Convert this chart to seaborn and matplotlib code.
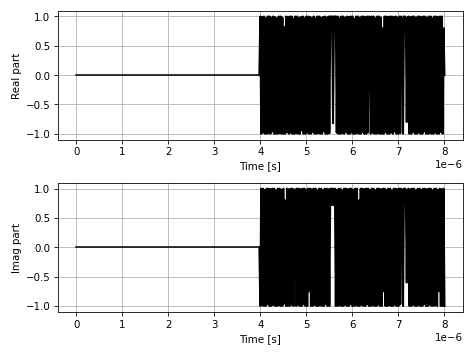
import numpy as np
import matplotlib
matplotlib.use("Agg")
import matplotlib.pyplot as plt
import seaborn as sns

# quiet lead-in (signal is zero until the burst starts)
T_QUIET = [0.0, 3.98e-6]
Y_QUIET = [0.0, 0.0]

# burst samples, one every 0.02 us from 4.00 us to 8.00 us
T_START = 4.0e-6
T_STOP = 8.0e-6

REAL = [
    1.0, -1.0, 0.99, -0.98, 1.0, -1.0, 0.97, -1.0, 1.0, -0.99,
    1.0, -1.0, 0.98, -0.96, 1.0, -1.0, 0.99, -1.0, 0.97, -1.0,
    1.0, -0.99, 1.0, -1.0, 0.98, -1.0, 0.82, -1.0, 1.0, -0.97,
    0.99, -1.0, 1.0, -0.98, 1.0, -1.0, 0.96, -1.0, 1.0, -0.99,
    1.0, -1.0, 0.98, -1.0, 0.99, -0.94, 1.0, -1.0, 0.97, -1.0,
    1.0, -0.98, 1.0, -1.0, 0.99, -1.0, 0.98, -0.97, 1.0, -1.0,
    0.97, -1.0, 1.0, -0.99, 1.0, -1.0, 0.98, -1.0, 0.99, -0.96,
    1.0, -1.0, 0.98, -1.0, 1.0, -0.99, 1.0, 1.0, 1.0, -0.82,
    1.0, 1.0, 1.0, -0.98, 1.0, -1.0, 0.97, -1.0, 1.0, -0.99,
    1.0, -1.0, 0.98, -0.97, 1.0, -1.0, 0.99, -1.0, 1.0, -0.98,
    1.0, -1.0, 0.96, -1.0, 1.0, -0.99, 1.0, -1.0, 0.98, -1.0,
    1.0, -0.97, 1.0, -1.0, 0.99, -1.0, 1.0, -0.98, 1.0, 0.99,
    -1.0, 1.0, -0.98, 1.0, -1.0, 0.97, -1.0, 1.0, -0.99, 1.0,
    -1.0, 0.98, -1.0, 0.8, -1.0, 1.0, -0.97, 1.0, -1.0, 0.99,
    -1.0, 1.0, -0.98, 1.0, -1.0, 0.99, -0.96, 1.0, -1.0, 0.98,
    -1.0, 1.0, -0.99, 1.0, 0.97, -1.0, 1.0, 1.0, 0.98, -0.8,
    0.98, 1.0, -1.0, 0.99, -1.0, 1.0, -0.97, 1.0, -1.0, 0.98,
    -1.0, 1.0, -0.98, 1.0, -1.0, 0.99, -1.0, 1.0, -0.96, 1.0,
    -1.0, 0.98, -1.0, 1.0, -0.99, 1.0, -1.0, 0.97, -1.0, 1.0,
    -0.98, 1.0, -1.0, 0.99, -1.0, 1.0, -0.97, 1.0, -1.0, 0.8,
    0.0,
]

IMAG = [
    -1.0, 1.0, -0.99, 1.0, -1.0, 0.98, -1.0, 1.0, -0.97, 1.0,
    -1.0, 0.99, -1.0, 1.0, -0.98, 1.0, -1.0, 0.97, -1.0, 1.0,
    -0.99, 1.0, -1.0, 0.98, -1.0, 1.0, -0.96, 0.8, -1.0, 1.0,
    -1.0, 0.99, -1.0, 1.0, -0.98, 1.0, -1.0, 0.97, 0.99, -1.0,
    1.0, -0.98, 1.0, -1.0, 0.99, -1.0, 1.0, -0.97, 1.0, -1.0,
    0.98, -1.0, 1.0, -0.75, 1.0, -1.0, 0.99, -1.0, 1.0, -0.98,
    1.0, -1.0, 0.97, -1.0, 1.0, -0.99, 1.0, -1.0, 0.98, -1.0,
    1.0, -0.97, 1.0, -1.0, 0.99, -1.0, 1.0, 1.0, 0.72, 1.0,
    0.72, 1.0, -1.0, 0.98, -1.0, 1.0, -0.99, 1.0, -1.0, 0.97,
    -1.0, 1.0, -0.98, 1.0, -1.0, 0.99, -1.0, 1.0, -0.97, 1.0,
    -1.0, 0.98, -1.0, 1.0, -0.99, 1.0, -1.0, 0.8, -1.0, 1.0,
    -0.98, 1.0, -1.0, 0.99, -1.0, 1.0, -0.97, 1.0, -1.0, 0.98,
    -1.0, 1.0, -0.99, 1.0, -1.0, 0.97, -1.0, 1.0, -0.98, 1.0,
    -1.0, 0.99, -1.0, 1.0, -0.75, 1.0, -1.0, 0.98, -1.0, 1.0,
    -0.99, 1.0, -1.0, 0.97, -1.0, 1.0, -0.98, 1.0, -1.0, 0.99,
    -1.0, 1.0, -0.97, 1.0, 0.98, -1.0, 1.0, 1.0, 0.98, -0.6,
    0.98, 1.0, -1.0, 0.99, -1.0, 1.0, -0.98, 1.0, -1.0, 0.97,
    -1.0, 1.0, -0.99, 1.0, -1.0, 0.98, -1.0, 1.0, -0.97, 1.0,
    -1.0, 0.99, -1.0, 1.0, -0.98, 1.0, -1.0, 0.97, -1.0, 1.0,
    -0.99, 1.0, -1.0, 0.98, -0.75, 1.0, -1.0, 0.99, -1.0, 1.0,
    -1.0,
]

Y_TICKS = [-1.0, -0.5, 0.0, 0.5, 1.0]


t_burst = np.concatenate([T_QUIET[-1:], np.linspace(T_START, T_STOP, len(REAL))])

# default 6.4x4.8 figure, rendered small
fig, axes = plt.subplots(2, 1, figsize=(6.4, 4.8))

for ax, burst, label in zip(axes, [REAL, IMAG], ["Real part", "Imag part"]):
    sns.lineplot(x=T_QUIET, y=Y_QUIET, color="black", linewidth=1.5,
                 estimator=None, sort=False, ax=ax)
    # burst drawn a bit heavier so the sparse samples fill in like the original
    sns.lineplot(x=t_burst, y=Y_QUIET[-1:] + burst, color="black", linewidth=2.0,
                 estimator=None, sort=False, ax=ax)
    ax.set_yticks(Y_TICKS)
    ax.set_xlabel("Time [s]")
    ax.set_ylabel(label)
    ax.grid(True)

fig.tight_layout()
fig.savefig("out.png", dpi=474 / 6.4)
